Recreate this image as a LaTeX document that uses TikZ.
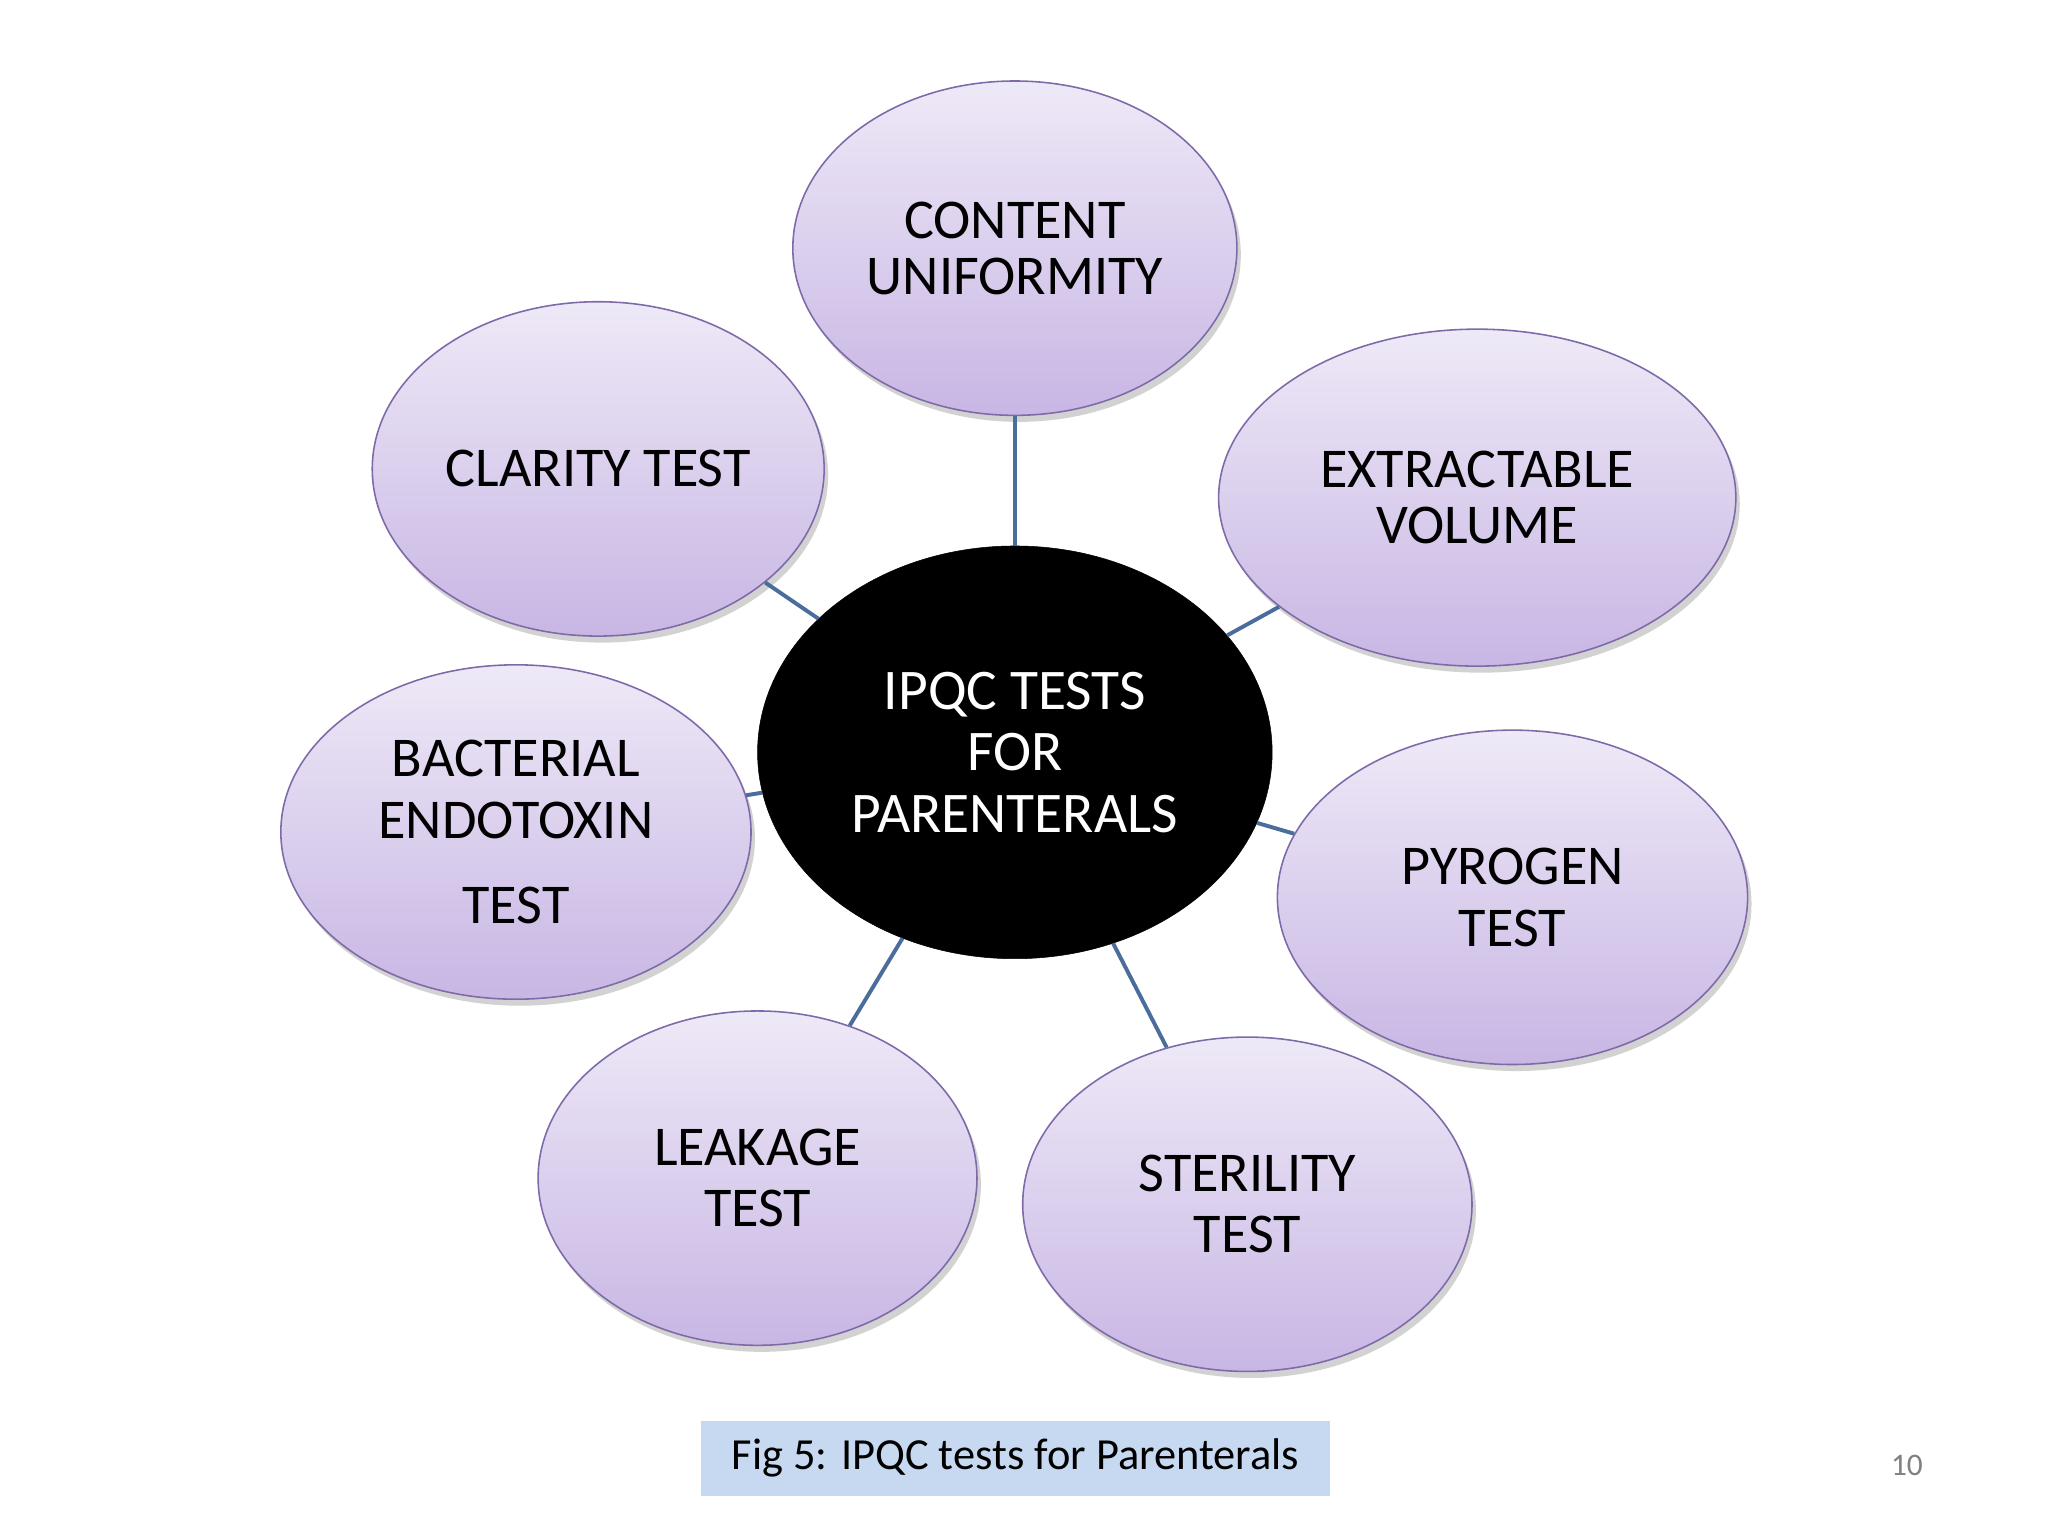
\documentclass[tikz,border=0pt]{standalone}
\usepackage{fontspec}
\setmainfont{Carlito}
\usetikzlibrary{shapes.geometric,shadows}
\definecolor{lavtop}{HTML}{EEE9F7}
\definecolor{lavbot}{HTML}{C8B6E4}
\definecolor{lavline}{HTML}{7E6AA8}
\definecolor{conn}{HTML}{4A6D9C}
\definecolor{capbox}{HTML}{C6D9F1}
\begin{document}
\begin{tikzpicture}[x=1pt,y=-1pt,
  bub/.style={ellipse,draw=lavline,line width=1.2pt,top color=lavtop,bottom color=lavbot,
    drop shadow={shadow xshift=3pt,shadow yshift=-5pt,opacity=0.35},
    font=\fontsize{43}{43}\selectfont,align=center,inner sep=0pt},
  hub/.style={ellipse,fill=black,draw=black,text=white,font=\fontsize{44}{47}\selectfont,align=center,inner sep=0pt},
  conline/.style={draw=conn,line width=3pt}]
\useasboundingbox (0,0) rectangle (1568,1176);
\fill[white] (0,0) rectangle (1568,1176);
\node[bub,minimum width=340,minimum height=256] (cu) at (777,190) {CONTENT\\UNIFORMITY};
\node[bub,minimum width=346,minimum height=256] (cl) at (458,359) {CLARITY TEST};
\node[bub,minimum width=396,minimum height=258] (ev) at (1131,381) {EXTRACTABLE\\VOLUME};
\node[bub,minimum width=360,minimum height=256,font=\fontsize{43}{47}\selectfont] (be) at (395,637) {BACTERIAL\\ENDOTOXIN\\[18pt]TEST};
\node[bub,minimum width=360,minimum height=256,font=\fontsize{43}{47}\selectfont] (py) at (1158,687) {PYROGEN\\TEST};
\node[bub,minimum width=336,minimum height=256,font=\fontsize{43}{47}\selectfont] (le) at (580,902) {LEAKAGE\\TEST};
\node[bub,minimum width=344,minimum height=256,font=\fontsize{43}{47}\selectfont] (st) at (955,922) {STERILITY\\TEST};
\node[hub,minimum width=394,minimum height=316] (c) at (777,576) {IPQC TESTS\\FOR\\PARENTERALS};
\draw[conline] (c) -- (cu);
\draw[conline] (c) -- (cl);
\draw[conline] (c) -- (ev);
\draw[conline] (c) -- (be);
\draw[conline] (c) -- (py);
\draw[conline] (c) -- (le);
\draw[conline] (c) -- (st);
\node[fill=capbox,minimum width=481,minimum height=57,inner sep=0pt,font=\fontsize{34}{40}\selectfont] (cap) at (777.5,1116.5) {Fig 5: IPQC tests for Parenterals};
\node[text=gray,font=\fontsize{24}{28}\selectfont] (pg) at (1460,1122) {10};
\end{tikzpicture}
\end{document}
